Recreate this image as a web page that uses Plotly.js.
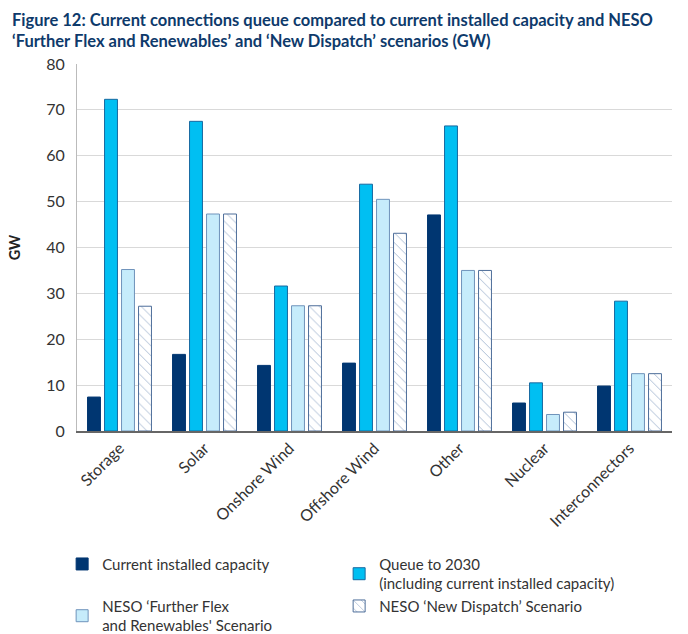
<!DOCTYPE html>
<html>
<head>
<meta charset="utf-8">
<script src="https://cdn.plot.ly/plotly-3.0.1.min.js"></script>
<style>
  html, body { margin: 0; padding: 0; background: #fff; }
  #chart { width: 688px; height: 634px; }
</style>
</head>
<body>
<div id="chart"></div>
<script>
// Figure 12 — connections queue vs installed capacity and NESO scenarios (GW)

const categories = ["Storage", "Solar", "Onshore Wind", "Offshore Wind", "Other", "Nuclear", "Interconnectors"];

const installed   = [7.4, 16.7, 14.3, 14.8, 47.1, 6.1, 9.8];
const queue2030   = [72.3, 67.5, 31.6, 53.8, 66.5, 10.5, 28.3];
const furtherFlex = [35.2, 47.3, 27.3, 50.5, 35.0, 3.6, 12.5];
const newDispatch = [27.2, 47.3, 27.3, 43.1, 35.0, 4.1, 12.5];

const seriesNames = [
    "Current installed capacity",
    "Queue to 2030<br>(including current installed capacity)",
    "NESO ‘Further Flex<br>and Renewables' Scenario",
    "NESO ‘New Dispatch’ Scenario",
];

const titleText = "Figure 12: Current connections queue compared to current installed capacity and NESO<br>" +
    "‘Further Flex and Renewables’ and ‘New Dispatch’ scenarios (GW)";

const FONT = "Lato, 'Open Sans', sans-serif";

function bar(name, y, fill, line, pattern) {
    const marker = { color: fill, line: { color: line, width: 1 } };
    if (pattern) marker.pattern = pattern;
    return {
        type: "bar",
        name,
        x: categories,
        y,
        marker,
        hovertemplate: "%{x}: %{y:.1f} GW<extra></extra>",
    };
}

const traces = [
    bar(seriesNames[0], installed, "#003671", "#003671"),
    bar(seriesNames[1], queue2030, "#00bff2", "#1769a0"),
    bar(seriesNames[2], furtherFlex, "#c6ecfb", "#6f93bb"),
    bar(seriesNames[3], newDispatch, "#ffffff", "#4e6e9a",
        { shape: "\\", fgcolor: "#9fb3cf", bgcolor: "#ffffff", size: 7, solidity: 0.12 }),
];

const layout = {
    width: 688,
    height: 634,
    paper_bgcolor: "#ffffff",
    plot_bgcolor: "#ffffff",
    font: { family: FONT, color: "#333333", size: 14 },
    margin: { t: 64, b: 203, l: 77, r: 16, autoexpand: false },
    annotations: [{
        text: titleText,
        xref: "paper", yref: "paper",
        x: -67 / 595, xanchor: "left",
        y: 1 + 56 / 367, yanchor: "top",
        align: "left",
        showarrow: false,
        font: { family: FONT, size: 16.5, color: "#0e3a6b", weight: "bold" },
    }],
    barmode: "group",
    bargap: 0.2,
    bargroupgap: 0.24,
    showlegend: true,
    legend: {
        orientation: "h",
        x: -0.025,
        xanchor: "left",
        y: -0.318,
        yanchor: "top",
        entrywidth: 232,
        entrywidthmode: "pixels",
        traceorder: "normal",
        font: { family: FONT, size: 15, color: "#333333" },
        itemwidth: 30,
    },
    xaxis: {
        tickangle: -45,
        tickfont: { family: FONT, size: 16, color: "#333333" },
        showline: true,
        linecolor: "#666666",
        linewidth: 1.5,
        ticks: "",
        showgrid: false,
    },
    yaxis: {
        range: [0, 80],
        dtick: 10,
        tickfont: { family: FONT, size: 16, color: "#333333" },
        showline: true,
        linecolor: "#bbbbbb",
        gridcolor: "#d9d9d9",
        zeroline: false,
        ticks: "",
        ticklabelstandoff: 8,
        title: {
            text: "<b>GW</b>",
            font: { family: FONT, size: 14.5, color: "#222222" },
            standoff: 22,
        },
    },
};

Plotly.newPlot("chart", traces, layout, { displayModeBar: false });
</script>
</body>
</html>
